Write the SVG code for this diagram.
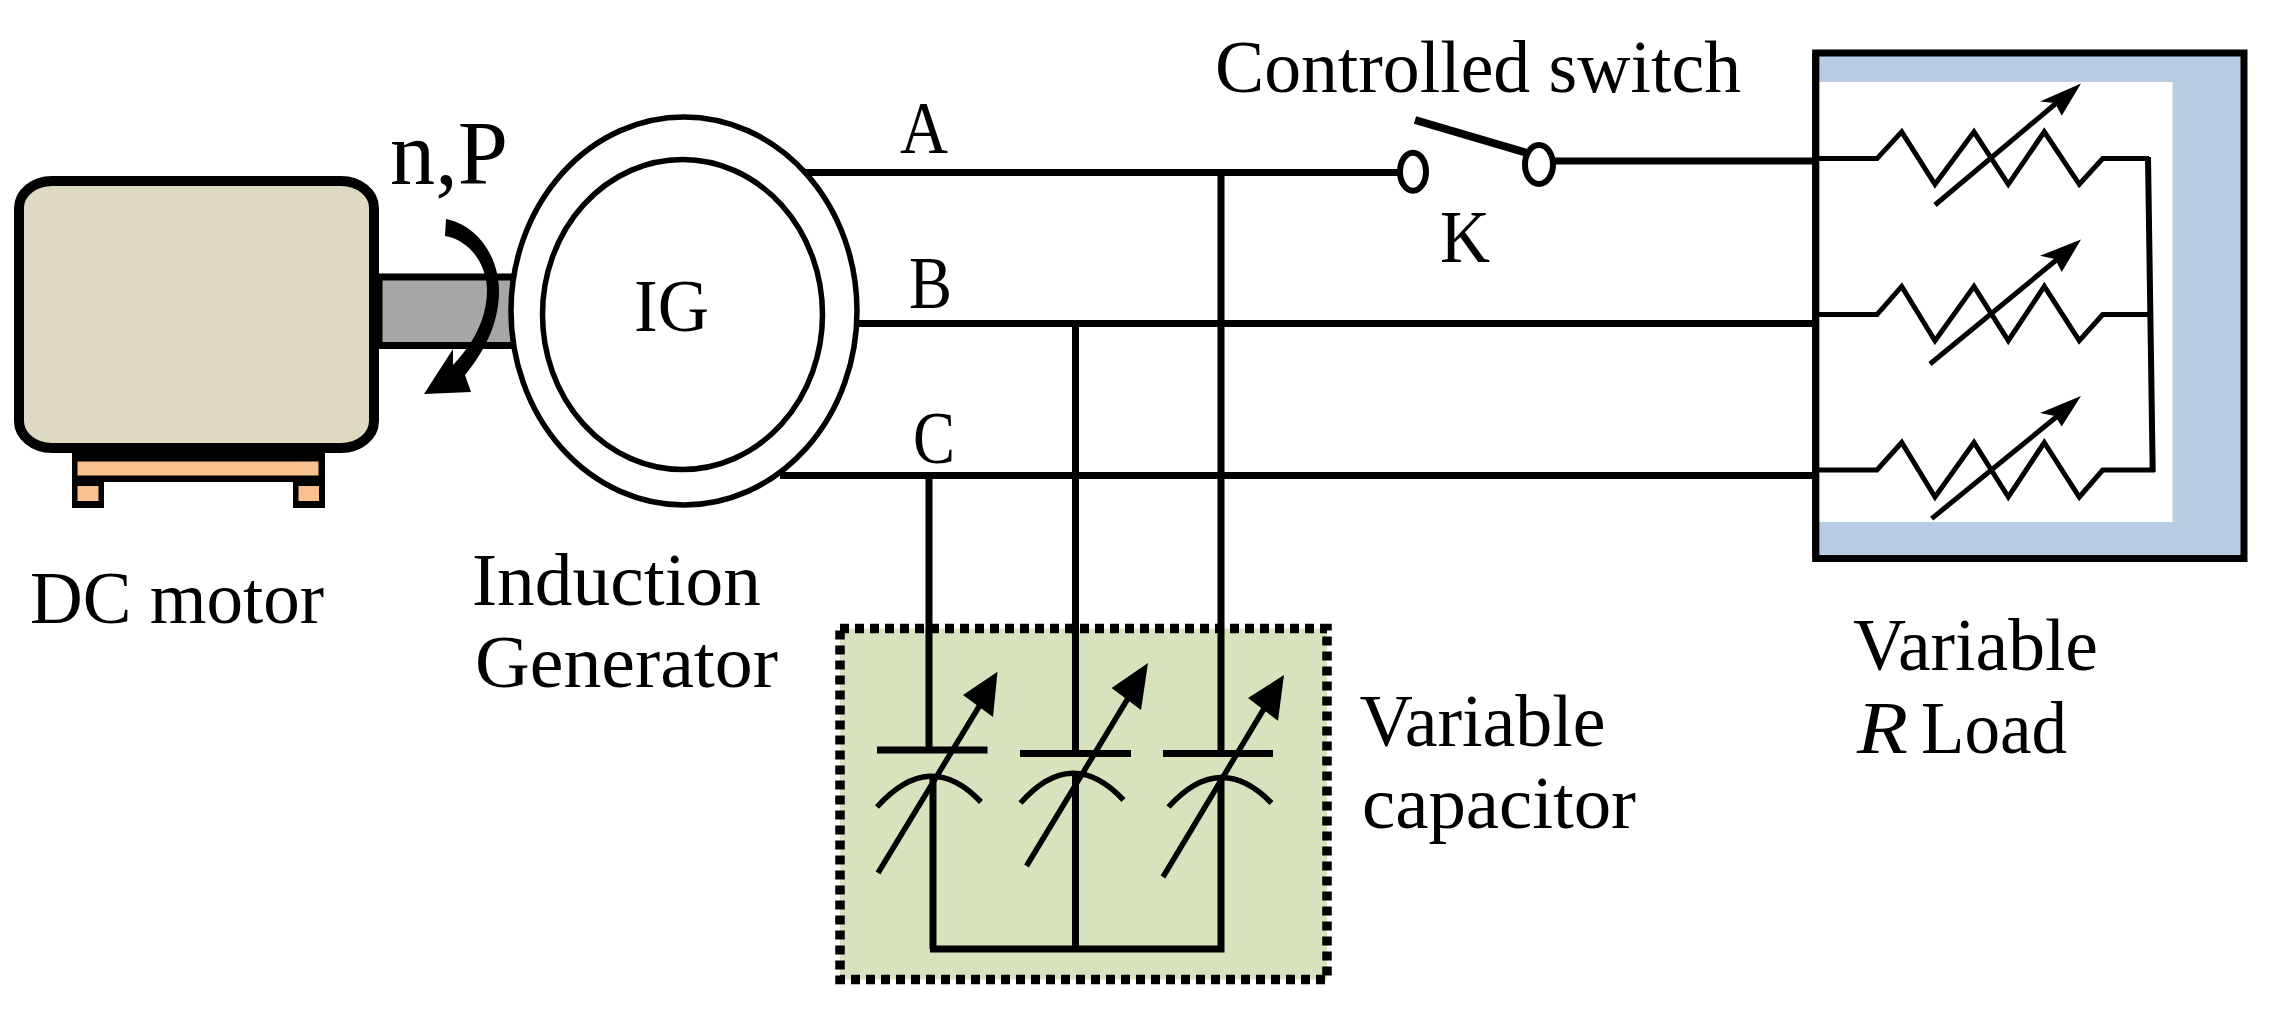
<svg xmlns="http://www.w3.org/2000/svg" width="2276" height="1017" viewBox="0 0 2276 1017">
<style>
text{font-family:"Liberation Serif","DejaVu Serif",serif;font-size:74px;fill:#000}
.w{fill:none;stroke:#000;stroke-width:7}
.t{fill:none;stroke:#000;stroke-width:5.500}
.z{fill:none;stroke:#000;stroke-width:5;stroke-linejoin:miter}
.b{fill:#000;stroke:none}
.p{fill:#FAC090}
</style>
<rect width="2276" height="1017" fill="#fff"/>
<g id="dc-motor">
<path class="b" d="M72 445H325V508H293V482H104V508H72Z"/>
<rect class="p" x="77.500" y="461.500" width="241" height="14"/>
<rect class="p" x="77.500" y="486" width="21" height="15"/>
<rect class="p" x="298.500" y="486" width="20.500" height="15"/>
<rect x="19" y="181" width="355" height="267" rx="33" ry="27" fill="#DDD9C3" stroke="#000" stroke-width="10"/>
<text x="30" y="623" textLength="294" lengthAdjust="spacingAndGlyphs">DC motor</text>
</g>
<g id="shaft">
<rect x="379" y="277" width="135" height="68.500" fill="#A6A6A6" stroke="#000" stroke-width="7"/>
</g>
<g id="generator">
<ellipse cx="684" cy="311" rx="173" ry="194" fill="#fff" stroke="#000" stroke-width="5.500"/>
<ellipse cx="682.500" cy="314.500" rx="140" ry="155" fill="#fff" stroke="#000" stroke-width="5.500"/>
<text x="634" y="331" textLength="75" lengthAdjust="spacingAndGlyphs">IG</text>
<text x="472" y="605" textLength="289" lengthAdjust="spacingAndGlyphs">Induction</text>
<text x="475" y="687" textLength="303" lengthAdjust="spacingAndGlyphs">Generator</text>
</g>
<g id="rotation">
<path class="b" d="M446 219C480 226 500 260 499 294C498 325 484 352 465 375L471 392L424 394L453 349L453 365C472 345 487 320 487 290C487 265 470 240 445 236Z"/>
<text x="390" y="183.500" style="font-size:90px" textLength="118" lengthAdjust="spacingAndGlyphs">n,P</text>
</g>
<g id="capacitor-bank">
<rect x="840" y="628.500" width="487" height="351" fill="#D7E3BC" stroke="#000" stroke-width="9.500" stroke-dasharray="9 6"/>
<text x="1359.500" y="746" textLength="246" lengthAdjust="spacingAndGlyphs">Variable</text>
<text x="1362" y="828" textLength="274" lengthAdjust="spacingAndGlyphs">capacitor</text>
</g>
<g id="connectors">
<path class="w" d="M804 172.500H1399"/>
<path class="w" d="M859 323.500H1812"/>
<path class="w" d="M780 475.500H1812"/>
<path class="w" d="M1555 161H1812"/>
<path class="w" d="M929 475V750"/>
<path class="w" d="M1075.500 323V753"/>
<path class="w" d="M1221 172V753"/>
<path class="w" d="M933 778V949M1075.500 775V949M1221 780V949M930 949H1224.500"/>
</g>
<g id="capacitors">
<path d="M877 750H987.500M1020 753.500H1131M1163 753.500H1273" fill="none" stroke="#000" stroke-width="7"/>
<path class="t" d="M877 807Q930 748 981 802M1020.500 803Q1072 745 1123.500 800M1168.500 807Q1220 750 1271.500 803"/>
<path class="t" d="M878 873L983 700"/>
<path class="b" d="M997.500 671.700L963 695L993 717Z"/>
<path class="t" d="M1026.500 866L1130 695"/>
<path class="b" d="M1148 663L1111.600 688L1141 710Z"/>
<path class="t" d="M1163 877L1268 702"/>
<path class="b" d="M1284 675L1248 698L1278 720.700Z"/>
</g>
<g id="switch">
<ellipse cx="1413" cy="171.700" rx="13" ry="19" fill="#fff" stroke="#000" stroke-width="6"/>
<ellipse cx="1539" cy="164.500" rx="14" ry="19.500" fill="#fff" stroke="#000" stroke-width="6"/>
<path d="M1415 120L1527 153" fill="none" stroke="#000" stroke-width="8"/>
<text x="1215" y="92" textLength="526" lengthAdjust="spacingAndGlyphs">Controlled switch</text>
<text x="1440" y="262" textLength="50" lengthAdjust="spacingAndGlyphs">K</text>
</g>
<g id="labels">
<text x="900" y="153" textLength="48" lengthAdjust="spacingAndGlyphs">A</text>
<text x="909" y="308" textLength="43" lengthAdjust="spacingAndGlyphs">B</text>
<text x="913" y="463" textLength="42" lengthAdjust="spacingAndGlyphs">C</text>
</g>
<g id="load">
<path d="M1815.700 53H2244V558.500H1815.700Z" fill="#B8CCE4" stroke="#000" stroke-width="7"/>
<rect x="1819.500" y="82" width="353" height="440" fill="#fff"/>
<path d="M1815.700 53V558.500" fill="none" stroke="#000" stroke-width="7"/>
<path class="z" d="M1819 158.600H1877L1901.700 131.800L1935 184.300L1974 131.800L2008.300 184.300L2044.300 131.800L2079.300 184.300L2102.700 158.600H2149"/>
<path class="z" d="M1819 314.600H1877L1901.700 286.400L1935 340.700L1974 286.400L2008.300 340.700L2044.300 286.400L2079.300 340.700L2102.700 314.600H2150"/>
<path class="z" d="M1819 470H1877L1901.700 442.500L1935 497L1974 442.500L2008.300 497L2044.300 442.500L2079.300 497L2102.700 470H2155"/>
<path d="M2148 157L2152.700 472" fill="none" stroke="#000" stroke-width="6"/>
<path class="z" d="M1935 205L2060 100"/>
<path class="z" d="M1930 364L2060 257"/>
<path class="z" d="M1931.700 518.600L2060 414"/>
<path class="b" d="M2081 83.600L2040 101.400L2055 103L2061.700 115.700Z"/>
<path class="b" d="M2081 239.600L2040 255.700L2055 259L2061.700 272Z"/>
<path class="b" d="M2081 396L2040 413L2055 416L2061.700 426.400Z"/>
<text x="1853" y="670" textLength="245" lengthAdjust="spacingAndGlyphs">Variable</text>
<text x="1857" y="753" font-style="italic" textLength="51" lengthAdjust="spacingAndGlyphs">R</text>
<text x="1921" y="753" textLength="146" lengthAdjust="spacingAndGlyphs">Load</text>
</g>
</svg>
